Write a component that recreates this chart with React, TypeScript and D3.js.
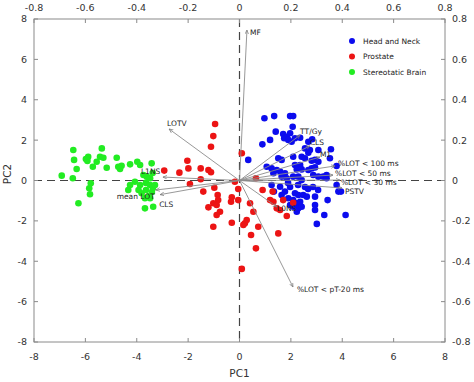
import React from "react";
import * as d3 from "d3";

// ---------- data ----------
const xTicks = [-8, -6, -4, -2, 0, 2, 4, 6, 8];
const yTicks = [-8, -6, -4, -2, 0, 2, 4, 6, 8];
const loadTicks = ["-0.8", "-0.6", "-0.4", "-0.2", "0", "0.2", "0.4", "0.6", "0.8"];
const loadTickVals = [-0.8, -0.6, -0.4, -0.2, 0, 0.2, 0.4, 0.6, 0.8];

const groups = ["Head and Neck", "Prostate", "Stereotatic Brain"];
const groupColors = ["#0c0cee", "#ec1414", "#22ec22"];

// Head and Neck scores [PC1, PC2]
const headNeck: [number, number][] = [
  [0.97, 3.08], [1.35, 3.19], [1.97, 3.19], [2.09, 3.19], [2.07, 2.66], [1.41, 2.42],
  [1.7, 2.3], [1.84, 2.17], [1.97, 2.34], [1.74, 2.09], [1.9, 2.01], [2.03, 1.92],
  [2.16, 2.09], [2.36, 2.12], [1.19, 2.01], [0.89, 1.79], [2.68, 1.92], [2.83, 2.04],
  [2.55, 1.59], [2.74, 1.51], [3.07, 1.51], [2.68, 1.38], [3.56, 1.55], [2.42, 1.18],
  [2.55, 1.1], [2.81, 0.98], [2.94, 1.02], [3.07, 0.93], [3.52, 1.1], [1.51, 1.1],
  [1.64, 1.02], [2.09, 1.18], [1.06, 0.68], [1.25, 0.6], [1.45, 0.52], [1.58, 0.44],
  [1.77, 0.36], [1.64, 0.19], [1.84, 0.11], [2.16, 0.77], [2.36, 0.77], [2.23, 0.55],
  [2.42, 0.55], [2.68, 0.52], [2.81, 0.6], [2.94, 0.65], [2.09, 0.19], [2.29, 0.19],
  [2.42, 0.02], [2.87, 0.27], [3.07, 0.19], [3.26, 0.19], [3.39, 0.11], [3.39, 0.27],
  [3.78, 0.72], [3.78, -0.22], [3.85, -0.55], [3.95, -0.55], [1.25, -0.22], [1.58, -0.31],
  [1.89, -0.12], [1.97, -0.32], [2.28, -0.22], [2.55, -0.32], [2.67, -0.42], [2.86, -0.32],
  [3.06, -0.47], [1.77, -0.55], [1.64, -0.72], [2.16, -0.63], [2.29, -0.72], [2.48, -0.72],
  [2.62, -0.8], [1.9, -0.88], [2.09, -0.97], [2.23, -1.13], [2.36, -1.05], [2.94, -0.8],
  [3.43, -0.97], [2.23, -1.55], [2.29, -1.38], [2.42, -1.3], [2.94, -1.21], [2.94, -1.46],
  [3.3, -1.71], [4.13, -1.71], [3.01, -2.15], [2.09, -1.3], [1.97, -1.21], [0.34, 1.02],
  [1.32, 0.36], [1.34, -0.55],
];

// Prostate scores
const prostate: [number, number][] = [
  [-0.95, 2.8], [-1.02, 2.2], [-1.11, 1.67], [0.09, 1.35], [-2.03, 0.98], [-2.34, 0.39],
  [-1.99, 0.6], [-1.51, 0.6], [-1.21, 0.52], [-1.11, 0.41], [-2.93, 0.49], [-1.51, 0.06],
  [-1.93, -0.17], [-0.18, -0.06], [-1.41, -0.55], [-0.98, -0.36], [-0.85, -0.72], [-0.83, -0.97],
  [-1.02, -1.13], [-0.89, -1.21], [-1.21, -1.33], [-0.3, -0.83], [-0.33, -1.05], [-0.05, -0.97],
  [-0.05, -0.42], [-0.76, -1.55], [-0.89, -1.71], [-1.02, -2.29], [-0.3, -2.09], [0.28, -1.96],
  [0.21, -2.12], [0.15, -2.2], [0.41, -1.13], [0.54, -1.55], [0.73, -2.29], [0.45, -2.7],
  [0.64, -3.36], [0.09, -4.38], [0.64, 0.11], [0.9, -0.47], [1.19, -0.97], [1.29, -0.55],
  [1.32, -1.05], [1.7, -0.97], [2.09, -1.1], [1.84, -1.76], [1.45, -1.38], [1.58, -1.46],
  [1.51, -2.62],
];

// Stereotatic Brain scores
const brain: [number, number][] = [
  [-6.47, 1.51], [-5.36, 1.59], [-6.44, 1.02], [-5.89, 1.18], [-5.92, 0.97], [-5.98, 1.06],
  [-5.56, 0.93], [-5.71, 0.68], [-5.43, 1.18], [-5.3, 1.13], [-5.17, 0.63], [-6.34, 0.57],
  [-4.78, 1.13], [-4.72, 0.68], [-4.59, 0.73], [-4.65, 0.57], [-4.26, 0.8], [-3.98, 0.93],
  [-3.87, 0.77], [-3.42, 0.85], [-6.92, 0.24], [-6.49, 0.11], [-5.79, -0.14], [-5.85, -0.39],
  [-5.82, -0.68], [-6.27, -1.13], [-4.26, -0.22], [-4.33, -0.47], [-4.07, -0.06], [-3.87, -0.22],
  [-3.93, -0.47], [-3.81, -0.63], [-3.74, 0.27], [-3.61, 0.19], [-3.48, 0.11], [-3.64, -0.12],
  [-3.48, -0.22], [-3.37, -0.37], [-3.64, -0.47], [-3.41, -0.57], [-3.52, -0.77], [-3.68, -0.88],
  [-3.48, -0.88], [-3.68, -1.38], [-3.36, -1.3], [-3.38, 0.37], [-3.29, -0.22],
];

// Loadings (variable names and coefficients on PC1/PC2)
const loadNames = [
  "MF", "LOTV", "L1NS", "mean LOT", "CLS", "TT/Gy", "CLS", "M1",
  "%LOT < 100 ms", "%LOT < 50 ms", "%LOT < 30 ms", "PSTV", "L0NS", "%LOT < pT-20 ms",
];
const loadPC1 = [0.029, -0.274, -0.298, -0.326, -0.309, 0.236, 0.274, 0.313, 0.372, 0.364, 0.391, 0.399, 0.146, 0.208];
const loadPC2 = [0.745, 0.255, 0.017, -0.047, -0.07, 0.225, 0.171, 0.116, 0.072, 0.027, 0.002, -0.037, -0.131, -0.527];

// label placement (layout only): dx, dy in px relative to arrow tip, anchor
const labelLayout: [number, number, string][] = [
  [3, 3, "start"], [-2, -5, "start"], [-22, -5, "start"], [-1, 7, "end"], [-1, 10, "start"],
  [0, -3, "start"], [0, -3, "start"], [0, -2, "start"], [3, -2, "start"], [2, -1, "start"],
  [1, 3, "start"], [3, 4, "start"], [0, 2, "start"], [4, 3, "start"],
];

// ---------- chart ----------
const W = 474;
const H = 382;
const L = 34, R = 445, T = 19, B = 342;
const FONT = "'DejaVu Sans', Verdana, sans-serif";

export default function App() {
  const x = d3.scaleLinear().domain([-8, 8]).range([L, R]);
  const y = d3.scaleLinear().domain([-8, 8]).range([B, T]);
  const xl = d3.scaleLinear().domain([-0.8, 0.8]).range([L, R]);
  const yl = d3.scaleLinear().domain([-0.8, 0.8]).range([B, T]);
  const axisColor = "#8a8a8a";
  const textColor = "#333";
  const tk = 4;

  const series = [headNeck, prostate, brain];

  return (
    <svg width={W} height={H} style={{ position: "absolute", left: 0, top: 0, background: "#fff" }} fontFamily={FONT}>
      <defs>
        <marker id="ah" viewBox="0 0 10 10" refX="9" refY="5" markerWidth="5" markerHeight="5" orient="auto-start-reverse">
          <path d="M0,1 L9,5 L0,9" fill="none" stroke="#777" strokeWidth="1.5" />
        </marker>
      </defs>
      {/* zero dashed lines */}
      <line x1={x(0)} x2={x(0)} y1={T} y2={B} stroke="#444" strokeWidth={1.2} strokeDasharray="8,5" />
      <line x1={L} x2={R} y1={y(0)} y2={y(0)} stroke="#444" strokeWidth={1.2} strokeDasharray="8,5" />

      {/* points */}
      {series.map((s, gi) =>
        s.map((p, i) => (
          <circle key={gi + "-" + i} cx={x(p[0])} cy={y(p[1])} r={3.3} fill={groupColors[gi]} />
        ))
      )}

      {/* loadings */}
      {loadNames.map((n, i) => {
        const tx = xl(loadPC1[i]);
        const ty = yl(loadPC2[i]);
        const [dx, dy, anchor] = labelLayout[i];
        return (
          <g key={"l" + i}>
            <line x1={xl(0)} y1={yl(0)} x2={tx} y2={ty} stroke="#8c8c8c" strokeWidth={0.9} markerEnd="url(#ah)" />
            <text x={tx + dx} y={ty + dy} fontSize={7.5} fill="#222" textAnchor={anchor} dominantBaseline="middle">
              {n}
            </text>
          </g>
        );
      })}

      {/* frame */}
      <rect x={L} y={T} width={R - L} height={B - T} fill="none" stroke={axisColor} strokeWidth={1} />

      {/* bottom / left ticks */}
      {xTicks.map((v) => (
        <g key={"xb" + v}>
          <line x1={x(v)} x2={x(v)} y1={B} y2={B - tk} stroke={axisColor} />
          <text x={x(v)} y={360} fontSize={9.5} fill={textColor} textAnchor="middle">{v}</text>
        </g>
      ))}
      {yTicks.map((v) => (
        <g key={"yl" + v}>
          <line x1={L} x2={L + tk} y1={y(v)} y2={y(v)} stroke={axisColor} />
          <text x={27} y={y(v) + 3.4} fontSize={9.5} fill={textColor} textAnchor="end">{v}</text>
        </g>
      ))}
      {/* top / right ticks for loadings */}
      {loadTickVals.map((v, i) => (
        <g key={"xt" + i}>
          <line x1={xl(v)} x2={xl(v)} y1={T} y2={T + tk} stroke={axisColor} />
          <text x={xl(v)} y={10.5} fontSize={9.5} fill={textColor} textAnchor="middle">{loadTicks[i]}</text>
        </g>
      ))}
      {loadTickVals.map((v, i) => (
        <g key={"yr" + i}>
          <line x1={R} x2={R - tk} y1={yl(v)} y2={yl(v)} stroke={axisColor} />
          <text x={452} y={yl(v) + 3.4} fontSize={9.5} fill={textColor} textAnchor="start">{loadTicks[i]}</text>
        </g>
      ))}

      {/* axis titles */}
      <text x={(L + R) / 2} y={377} fontSize={10.5} fill={textColor} textAnchor="middle">PC1</text>
      <text transform={`translate(10.5,174) rotate(-90)`} fontSize={10.5} fill={textColor} textAnchor="middle">PC2</text>

      {/* legend */}
      {groups.map((g, i) => (
        <g key={"lg" + i}>
          <circle cx={352} cy={41 + i * 15.5} r={3} fill={groupColors[i]} />
          <text x={363} y={41 + i * 15.5 + 2.8} fontSize={7.5} fill="#222">{g}</text>
        </g>
      ))}
    </svg>
  );
}
